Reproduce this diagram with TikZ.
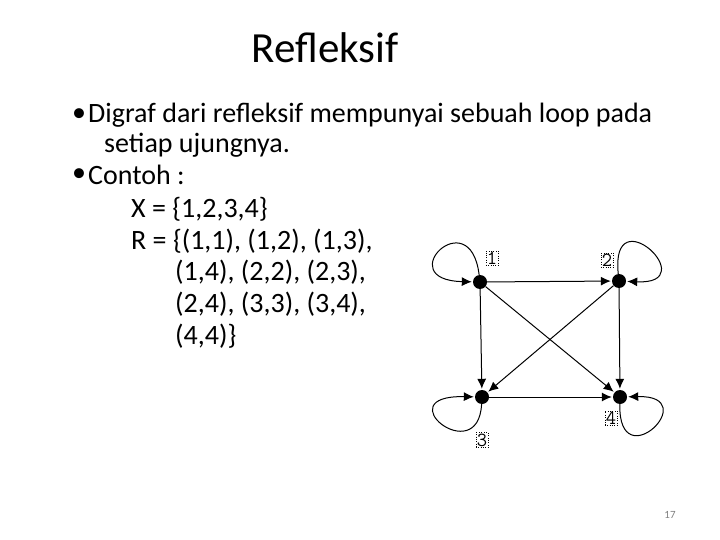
\documentclass[tikz,border=0pt]{standalone}
\usepackage{fontspec}
\setmainfont{Carlito}
\usetikzlibrary{arrows.meta}
\begin{document}
\begin{tikzpicture}[x=1pt,y=-1pt,
  txt/.style={anchor=west,inner sep=0,font=\fontsize{28}{32}\selectfont},
  vtx/.style={circle,fill=black,inner sep=0,minimum size=14pt},
  lbl/.style={font=\ttfamily\fontsize{20}{20}\selectfont,draw,dotted,inner sep=1pt},
  edge/.style={draw,line width=1pt,-{Latex[length=10pt,width=9pt]},shorten >=1pt}]
\useasboundingbox (0,0) rectangle (720,540);
\node[inner sep=0,font=\fontsize{43}{48}\selectfont] (title) at (325,48) {Refleksif};
\node[txt] (b1) at (72,115) {•};
\node[txt] (l1) at (88,115) {Digraf dari refleksif mempunyai sebuah loop pada};
\node[txt] (l2) at (104,145) {setiap ujungnya.};
\node[txt] (b2) at (72,175) {•};
\node[txt] (l3) at (88,175) {Contoh :};
\node[txt] (l4) at (131,209) {X = \{1,2,3,4\}};
\node[txt] (l5) at (131,241) {R = \{(1,1), (1,2), (1,3),};
\node[txt] (l6) at (175,272) {(1,4), (2,2), (2,3),};
\node[txt] (l7) at (175,304) {(2,4), (3,3), (3,4),};
\node[txt] (l8) at (175,336) {(4,4)\}};
\node[vtx] (n1) at (480,282) {};
\node[vtx] (n2) at (619,281) {};
\node[vtx] (n3) at (482,397) {};
\node[vtx] (n4) at (620,397) {};
\node[lbl] (t1) at (492,258) {1};
\node[lbl] (t2) at (607,260) {2};
\node[lbl] (t3) at (482,440) {3};
\node[lbl] (t4) at (611,418) {4};
\draw[edge] (n1) -- (n2);
\draw[edge] (n1) -- (n3);
\draw[edge] (n1) -- (n4);
\draw[edge] (n2) -- (n3);
\draw[edge] (n2) -- (n4);
\draw[edge] (n3) -- (n4);
\draw[edge] (n1) .. controls (470,200) and (390,280) .. (n1);
\draw[edge] (n2) .. controls (610,195) and (705,285) .. (n2);
\draw[edge] (n3) .. controls (478,470) and (385,395) .. (n3);
\draw[edge] (n4) .. controls (618,480) and (705,395) .. (n4);
\node[font=\fontsize{11}{11}\selectfont,text=gray] (pg) at (670,515) {17};
\end{tikzpicture}
\end{document}
